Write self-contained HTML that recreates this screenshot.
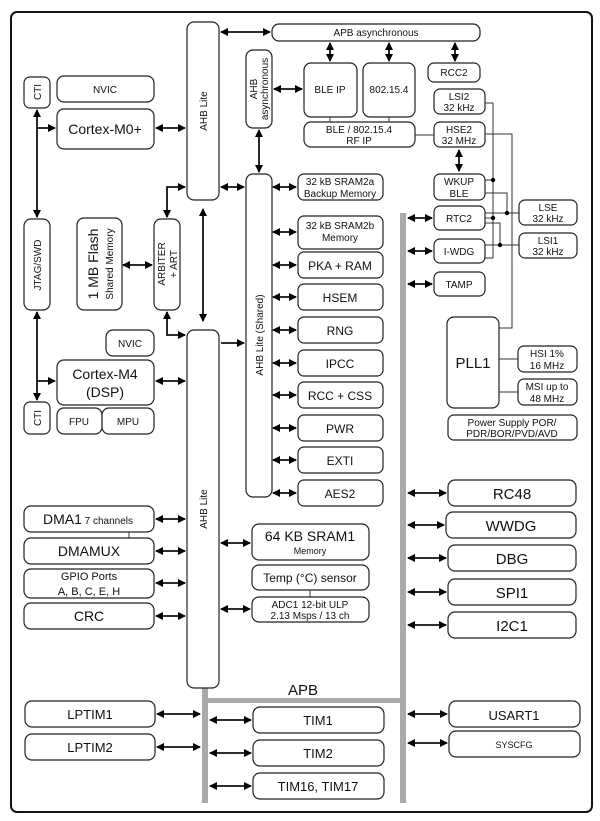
<!DOCTYPE html>
<html><head><style>
html,body{margin:0;padding:0;background:#fff;}
svg{display:block;font-family:"Liberation Sans",Arial,sans-serif;}
.b{fill:#fff;stroke:#222;stroke-width:1.2;}
.l{stroke:#111;stroke-width:1.8;fill:none;}
.t{stroke:#333;stroke-width:1;fill:none;}
text{fill:#111;text-anchor:middle;}
</style></head><body>
<svg width="600" height="821" viewBox="0 0 600 821" xmlns="http://www.w3.org/2000/svg">
<defs>
<marker id="a" markerWidth="8" markerHeight="8" refX="7" refY="4" orient="auto-start-reverse" markerUnits="userSpaceOnUse"><path d="M0,0 L8,4 L0,8 Z" fill="#000"/></marker>
</defs>
<rect x="11" y="12" width="581" height="800" rx="6" fill="#fff" stroke="#111" stroke-width="2"/>

<!-- gray APB bars -->
<rect x="400" y="213" width="6" height="590" fill="#aaa"/>
<rect x="202" y="688" width="6" height="115" fill="#aaa"/>
<rect x="202" y="698" width="204" height="5" fill="#aaa"/>
<text x="303" y="695" font-size="15">APB</text>

<!-- AHB Lite top -->
<rect class="b" x="187" y="22" width="32" height="178" rx="7"/>
<text transform="translate(207,111) rotate(-90)" font-size="10">AHB Lite</text>
<!-- AHB Lite lower -->
<rect class="b" x="187" y="330" width="32" height="358" rx="7"/>
<text transform="translate(207,509) rotate(-90)" font-size="10">AHB Lite</text>
<line class="l" x1="203" y1="209" x2="203" y2="321" marker-start="url(#a)" marker-end="url(#a)"/>

<!-- APB async -->
<rect class="b" x="272" y="24" width="208" height="17" rx="7"/>
<text x="376" y="36" font-size="10">APB asynchronous</text>
<line class="l" x1="221" y1="32" x2="270" y2="32" marker-start="url(#a)" marker-end="url(#a)"/>

<!-- AHB async -->
<rect class="b" x="246" y="50" width="26" height="78" rx="7"/>
<text transform="translate(257,89) rotate(-90)" font-size="10">AHB</text>
<text transform="translate(268,89) rotate(-90)" font-size="10">asynchronous</text>
<line class="l" x1="274" y1="89" x2="302" y2="89" marker-start="url(#a)" marker-end="url(#a)"/>

<rect class="b" x="304" y="63" width="53" height="54" rx="7"/>
<text x="330" y="93" font-size="10">BLE IP</text>
<rect class="b" x="363" y="63" width="52" height="54" rx="7"/>
<text x="389" y="93" font-size="10">802.15.4</text>
<rect class="b" x="428" y="63" width="52" height="19" rx="6"/>
<text x="454" y="76" font-size="10">RCC2</text>
<line class="l" x1="330" y1="43" x2="330" y2="61" marker-start="url(#a)" marker-end="url(#a)"/>
<line class="l" x1="389" y1="43" x2="389" y2="61" marker-start="url(#a)" marker-end="url(#a)"/>
<line class="l" x1="455" y1="43" x2="455" y2="61" marker-start="url(#a)" marker-end="url(#a)"/>
<line class="t" x1="330" y1="117" x2="330" y2="122"/>
<line class="t" x1="389" y1="117" x2="389" y2="122"/>
<rect class="b" x="304" y="122" width="111" height="25" rx="7"/>
<text x="359" y="133" font-size="10">BLE / 802.15.4</text>
<text x="359" y="144" font-size="10">RF IP</text>
<line class="t" x1="415" y1="135" x2="434" y2="135"/>

<!-- clocks -->
<rect class="b" x="434" y="89" width="51" height="25" rx="6"/>
<text x="459" y="100" font-size="10">LSI2</text><text x="459" y="111" font-size="10">32 kHz</text>
<rect class="b" x="434" y="122" width="51" height="25" rx="6"/>
<text x="459" y="133" font-size="10">HSE2</text><text x="459" y="144" font-size="10">32 MHz</text>
<line class="l" x1="459" y1="150" x2="459" y2="171" marker-start="url(#a)" marker-end="url(#a)"/>
<rect class="b" x="434" y="174" width="51" height="26" rx="6"/>
<text x="459" y="185" font-size="10">WKUP</text><text x="459" y="197" font-size="10">BLE</text>
<rect class="b" x="434" y="206" width="51" height="24" rx="6"/>
<text x="459" y="222" font-size="10">RTC2</text>
<rect class="b" x="434" y="239" width="51" height="24" rx="6"/>
<text x="459" y="255" font-size="10">I-WDG</text>
<rect class="b" x="434" y="272" width="51" height="24" rx="6"/>
<text x="459" y="288" font-size="10">TAMP</text>
<line class="l" x1="408" y1="218" x2="432" y2="218" marker-start="url(#a)" marker-end="url(#a)"/>
<line class="l" x1="408" y1="251" x2="432" y2="251" marker-start="url(#a)" marker-end="url(#a)"/>
<line class="l" x1="408" y1="284" x2="432" y2="284" marker-start="url(#a)" marker-end="url(#a)"/>

<rect class="b" x="519" y="200" width="58" height="25" rx="6"/>
<text x="548" y="211" font-size="10">LSE</text><text x="548" y="222" font-size="10">32 kHz</text>
<rect class="b" x="519" y="233" width="58" height="25" rx="6"/>
<text x="548" y="244" font-size="10">LSI1</text><text x="548" y="255" font-size="10">32 kHz</text>

<polyline class="t" points="485,103 493,103 493,258 485,258"/>
<line class="t" x1="485" y1="180" x2="493" y2="180"/>
<line class="t" x1="485" y1="218" x2="493" y2="218"/>
<polyline class="t" points="485,134 512,134 512,328 499,328"/>
<polyline class="t" points="485,193 507,193 507,213"/>
<line class="t" x1="485" y1="213" x2="519" y2="213"/>
<polyline class="t" points="485,223 500,223 500,245"/>
<line class="t" x1="485" y1="245" x2="519" y2="245"/>
<circle cx="493" cy="180" r="2.2" fill="#000"/>
<circle cx="493" cy="218" r="2.2" fill="#000"/>
<circle cx="507" cy="213" r="2.2" fill="#000"/>
<circle cx="500" cy="245" r="2.2" fill="#000"/>

<rect class="b" x="447" y="317" width="52" height="91" rx="7"/>
<text x="473" y="368" font-size="15">PLL1</text>
<rect class="b" x="518" y="346" width="59" height="26" rx="6"/>
<text x="547" y="357" font-size="10">HSI 1%</text><text x="547" y="369" font-size="10">16 MHz</text>
<rect class="b" x="518" y="379" width="59" height="26" rx="6"/>
<text x="547" y="390" font-size="10">MSI up to</text><text x="547" y="402" font-size="10">48 MHz</text>
<line class="t" x1="499" y1="359" x2="518" y2="359"/>
<line class="t" x1="499" y1="392" x2="518" y2="392"/>
<rect class="b" x="448" y="415" width="129" height="25" rx="6"/>
<text x="512" y="426" font-size="10">Power Supply POR/</text><text x="512" y="437" font-size="10">PDR/BOR/PVD/AVD</text>

<!-- AHB shared -->
<rect class="b" x="246" y="174" width="26" height="323" rx="7"/>
<text transform="translate(263,335) rotate(-90)" font-size="10">AHB Lite (Shared)</text>
<line class="l" x1="259" y1="130" x2="259" y2="172" marker-start="url(#a)" marker-end="url(#a)"/>
<line class="l" x1="221" y1="187" x2="244" y2="187" marker-start="url(#a)" marker-end="url(#a)"/>
<line class="l" x1="221" y1="343" x2="244" y2="343" marker-end="url(#a)"/>

<g font-size="12">
<rect class="b" x="298" y="174" width="85" height="26" rx="6"/>
<text x="340" y="185" font-size="10">32 kB SRAM2a</text><text x="340" y="197" font-size="10">Backup Memory</text>
<rect class="b" x="298" y="216" width="85" height="33" rx="6"/>
<text x="340" y="229" font-size="10">32 kB SRAM2b</text><text x="340" y="241" font-size="10">Memory</text>
<rect class="b" x="298" y="252" width="85" height="26" rx="6"/><text x="340" y="270">PKA + RAM</text>
<rect class="b" x="298" y="284" width="85" height="26" rx="6"/><text x="340" y="302">HSEM</text>
<rect class="b" x="298" y="317" width="85" height="26" rx="6"/><text x="340" y="335">RNG</text>
<rect class="b" x="298" y="350" width="85" height="26" rx="6"/><text x="340" y="368">IPCC</text>
<rect class="b" x="298" y="382" width="85" height="26" rx="6"/><text x="340" y="400">RCC + CSS</text>
<rect class="b" x="298" y="415" width="85" height="26" rx="6"/><text x="340" y="433">PWR</text>
<rect class="b" x="298" y="447" width="85" height="26" rx="6"/><text x="340" y="465">EXTI</text>
<rect class="b" x="298" y="480" width="85" height="26" rx="6"/><text x="340" y="498">AES2</text>
</g>
<g>
<line class="l" x1="273" y1="187" x2="296" y2="187" marker-start="url(#a)" marker-end="url(#a)"/>
<line class="l" x1="273" y1="232" x2="296" y2="232" marker-start="url(#a)" marker-end="url(#a)"/>
<line class="l" x1="273" y1="265" x2="296" y2="265" marker-start="url(#a)" marker-end="url(#a)"/>
<line class="l" x1="273" y1="297" x2="296" y2="297" marker-start="url(#a)" marker-end="url(#a)"/>
<line class="l" x1="273" y1="330" x2="296" y2="330" marker-start="url(#a)" marker-end="url(#a)"/>
<line class="l" x1="273" y1="363" x2="296" y2="363" marker-start="url(#a)" marker-end="url(#a)"/>
<line class="l" x1="273" y1="395" x2="296" y2="395" marker-start="url(#a)" marker-end="url(#a)"/>
<line class="l" x1="273" y1="428" x2="296" y2="428" marker-start="url(#a)" marker-end="url(#a)"/>
<line class="l" x1="273" y1="460" x2="296" y2="460" marker-start="url(#a)" marker-end="url(#a)"/>
<line class="l" x1="273" y1="493" x2="296" y2="493" marker-start="url(#a)" marker-end="url(#a)"/>
</g>

<!-- right APB peripherals -->
<g font-size="15">
<rect class="b" x="448" y="480" width="128" height="26" rx="7"/><text x="512" y="499">RC48</text>
<rect class="b" x="446" y="512" width="130" height="26" rx="7"/><text x="511" y="531">WWDG</text>
<rect class="b" x="448" y="545" width="128" height="26" rx="7"/><text x="512" y="564">DBG</text>
<rect class="b" x="448" y="579" width="128" height="26" rx="7"/><text x="512" y="598">SPI1</text>
<rect class="b" x="448" y="612" width="128" height="26" rx="7"/><text x="512" y="631">I2C1</text>
<rect class="b" x="449" y="701" width="131" height="26" rx="7"/><text x="514" y="720" font-size="13">USART1</text>
</g>
<rect class="b" x="449" y="731" width="131" height="26" rx="7"/><text x="514" y="748" font-size="9">SYSCFG</text>
<line class="l" x1="408" y1="493" x2="446" y2="493" marker-start="url(#a)" marker-end="url(#a)"/>
<line class="l" x1="408" y1="525" x2="444" y2="525" marker-start="url(#a)" marker-end="url(#a)"/>
<line class="l" x1="408" y1="558" x2="446" y2="558" marker-start="url(#a)" marker-end="url(#a)"/>
<line class="l" x1="408" y1="592" x2="446" y2="592" marker-start="url(#a)" marker-end="url(#a)"/>
<line class="l" x1="408" y1="625" x2="446" y2="625" marker-start="url(#a)" marker-end="url(#a)"/>
<line class="l" x1="408" y1="714" x2="447" y2="714" marker-start="url(#a)" marker-end="url(#a)"/>
<line class="l" x1="408" y1="743" x2="447" y2="743" marker-start="url(#a)" marker-end="url(#a)"/>

<!-- SRAM1 / ADC -->
<rect class="b" x="252" y="524" width="117" height="36" rx="7"/>
<text x="310" y="541" font-size="14">64 KB SRAM1</text><text x="310" y="554" font-size="9">Memory</text>
<rect class="b" x="252" y="565" width="117" height="25" rx="7"/>
<text x="310" y="582" font-size="12">Temp (°C) sensor</text>
<line class="t" x1="310" y1="590" x2="310" y2="597"/>
<rect class="b" x="252" y="597" width="117" height="25" rx="7"/>
<text x="310" y="608" font-size="10">ADC1 12-bit ULP</text><text x="310" y="619" font-size="10">2.13 Msps / 13 ch</text>
<line class="l" x1="221" y1="543" x2="250" y2="543" marker-start="url(#a)" marker-end="url(#a)"/>
<line class="l" x1="221" y1="609" x2="250" y2="609" marker-start="url(#a)" marker-end="url(#a)"/>

<!-- TIMs -->
<g font-size="13">
<rect class="b" x="253" y="707" width="131" height="26" rx="7"/><text x="318" y="725">TIM1</text>
<rect class="b" x="253" y="740" width="131" height="26" rx="7"/><text x="318" y="758">TIM2</text>
<rect class="b" x="253" y="773" width="131" height="26" rx="7"/><text x="318" y="791">TIM16, TIM17</text>
<rect class="b" x="25" y="701" width="130" height="26" rx="7"/><text x="90" y="719">LPTIM1</text>
<rect class="b" x="25" y="734" width="130" height="26" rx="7"/><text x="90" y="752">LPTIM2</text>
</g>
<line class="l" x1="210" y1="720" x2="251" y2="720" marker-start="url(#a)" marker-end="url(#a)"/>
<line class="l" x1="210" y1="753" x2="251" y2="753" marker-start="url(#a)" marker-end="url(#a)"/>
<line class="l" x1="210" y1="786" x2="251" y2="786" marker-start="url(#a)" marker-end="url(#a)"/>
<line class="l" x1="157" y1="714" x2="200" y2="714" marker-start="url(#a)" marker-end="url(#a)"/>
<line class="l" x1="157" y1="747" x2="200" y2="747" marker-start="url(#a)" marker-end="url(#a)"/>

<!-- left top -->
<rect class="b" x="24" y="77" width="26" height="31" rx="6"/>
<text transform="translate(41,92) rotate(-90)" font-size="10">CTI</text>
<rect class="b" x="57" y="76" width="97" height="26" rx="7"/><text x="105" y="93" font-size="10">NVIC</text>
<rect class="b" x="57" y="109" width="97" height="40" rx="7"/><text x="105" y="134" font-size="14">Cortex-M0+</text>
<line class="l" x1="37" y1="110" x2="37" y2="217" marker-start="url(#a)" marker-end="url(#a)"/>
<line class="l" x1="37" y1="128" x2="55" y2="128" marker-end="url(#a)"/>
<line class="l" x1="156" y1="128" x2="185" y2="128" marker-start="url(#a)" marker-end="url(#a)"/>

<rect class="b" x="24" y="219" width="26" height="91" rx="7"/>
<text transform="translate(41,265) rotate(-90)" font-size="10">JTAG/SWD</text>
<rect class="b" x="77" y="218" width="45" height="92" rx="7"/>
<text transform="translate(98,264) rotate(-90)" font-size="14">1 MB Flash</text>
<text transform="translate(113,264) rotate(-90)" font-size="10">Shared Memory</text>
<rect class="b" x="154" y="219" width="26" height="91" rx="7"/>
<text transform="translate(165,264) rotate(-90)" font-size="10">ARBITER</text>
<text transform="translate(177,264) rotate(-90)" font-size="10">+ ART</text>
<line class="l" x1="123" y1="265" x2="152" y2="265" marker-start="url(#a)" marker-end="url(#a)"/>
<polyline class="l" points="167,217 167,187 185,187" marker-start="url(#a)" marker-end="url(#a)"/>
<polyline class="l" points="167,312 167,335 185,335" marker-start="url(#a)" marker-end="url(#a)"/>

<rect class="b" x="106" y="330" width="48" height="26" rx="7"/><text x="130" y="347" font-size="10">NVIC</text>
<rect class="b" x="57" y="360" width="97" height="45" rx="7"/>
<text x="105" y="379" font-size="14">Cortex-M4</text><text x="105" y="397" font-size="14">(DSP)</text>
<rect class="b" x="57" y="408" width="45" height="26" rx="7"/><text x="79" y="425" font-size="10">FPU</text>
<rect class="b" x="102" y="408" width="52" height="26" rx="7"/><text x="128" y="425" font-size="10">MPU</text>
<rect class="b" x="24" y="402" width="26" height="32" rx="6"/>
<text transform="translate(41,418) rotate(-90)" font-size="10">CTI</text>
<line class="l" x1="37" y1="312" x2="37" y2="400" marker-start="url(#a)" marker-end="url(#a)"/>
<line class="l" x1="37" y1="381" x2="55" y2="381" marker-end="url(#a)"/>
<line class="l" x1="156" y1="381" x2="185" y2="381" marker-start="url(#a)" marker-end="url(#a)"/>

<!-- DMA etc -->
<rect class="b" x="24" y="506" width="130" height="26" rx="7"/>
<text x="88" y="524"><tspan font-size="14">DMA1</tspan><tspan font-size="10"> 7 channels</tspan></text>
<line class="t" x1="129" y1="532" x2="129" y2="538"/>
<rect class="b" x="24" y="538" width="130" height="26" rx="7"/><text x="89" y="556" font-size="14">DMAMUX</text>
<rect class="b" x="24" y="569" width="130" height="29" rx="7"/>
<text x="89" y="580" font-size="11">GPIO Ports</text><text x="89" y="595" font-size="11">A, B, C, E, H</text>
<rect class="b" x="24" y="603" width="130" height="26" rx="7"/><text x="89" y="621" font-size="14">CRC</text>
<line class="l" x1="156" y1="519" x2="185" y2="519" marker-start="url(#a)" marker-end="url(#a)"/>
<line class="l" x1="156" y1="551" x2="185" y2="551" marker-start="url(#a)" marker-end="url(#a)"/>
<line class="l" x1="156" y1="583" x2="185" y2="583" marker-start="url(#a)" marker-end="url(#a)"/>
<line class="l" x1="156" y1="616" x2="185" y2="616" marker-start="url(#a)" marker-end="url(#a)"/>
</svg>
</body></html>
